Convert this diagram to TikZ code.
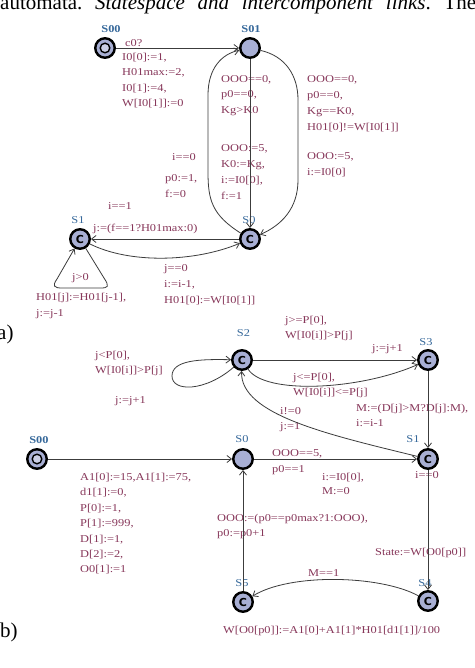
\documentclass[tikz,border=0pt]{standalone}
\usepackage{fontspec}
\setmainfont{Liberation Serif}
\newfontfamily\lblfont[FakeStretch=1.18]{Liberation Serif}
\newfontfamily\cfont{DejaVu Sans}
\usetikzlibrary{arrows.meta}
\definecolor{nodefill}{RGB}{168,175,212}
\definecolor{labcol}{RGB}{135,55,90}
\definecolor{namecol}{RGB}{55,105,155}
\definecolor{edgecol}{RGB}{60,60,60}
\pgfdeclarelayer{labels}
\pgfdeclarelayer{edges}
\pgfsetlayers{labels,edges,main}
\newcommand\tlines[5]{\foreach \lbltxt [count=\lk from 0] in {#5}{\node[lab] (#1-\lk) at (#2,#3+3.5+#4*\lk) {\lbltxt};}}
\begin{document}
\begin{tikzpicture}[x=1pt,y=-1pt,
  loc/.style={circle,draw=black,line width=2.4pt,fill=nodefill,minimum size=19.5pt,inner sep=0pt},
  comm/.style={loc,font=\cfont\bfseries\fontsize{11}{11}\selectfont},
  init/.style={loc,path picture={\draw[line width=1.4pt,fill=nodefill!60!white] (path picture bounding box.center) circle (4.8pt);}},
  lab/.style={anchor=base west,inner sep=0pt,text=labcol,font=\lblfont\fontsize{10.5}{12}\selectfont},
  nm/.style={anchor=base,inner sep=0pt,text=namecol,font=\lblfont\fontsize{10.5}{12}\selectfont},
  nmb/.style={nm,font=\lblfont\bfseries\fontsize{10.5}{12}\selectfont},
  edge/.style={draw=edgecol,line width=0.8pt,-{Straight Barb[length=4.5pt,width=7pt]}},
  capt/.style={inner sep=0pt,anchor=base west,font=\fontsize{21}{25}\selectfont}
]
\useasboundingbox (0,0) rectangle (474,668);

% ---------- (a) locations
\node[init] (S00a) at (105,48) {};
\node[loc]  (S01a) at (250,48) {};
\node[comm] (S0a)  at (250,239) {C};
\node[comm] (S1a)  at (80,239) {C};

% ---------- (b) locations
\node[init] (S00b) at (37,459) {};
\node[loc]  (S0b)  at (243,459) {};
\node[comm] (S1b)  at (428,459) {C};
\node[comm] (S2b)  at (242,360) {C};
\node[comm] (S3b)  at (428,360) {C};
\node[comm] (S4b)  at (428,601) {C};
\node[comm] (S5b)  at (243,602) {C};

\begin{pgfonlayer}{labels}
\fill[white] (0,0) rectangle (474,668);
% caption texts
\node[capt] (head) at (0,9.5) {\hbox to 476pt{automata.\hfill\textit{Statespace}\hfill\textit{and}\hfill\textit{intercomponent}\hfill\textit{links}.\hfill The}};
\node[capt] (capa) at (-3,339) {a)};
\node[capt] (capb) at (0,637) {b)};

% location names
\node[nmb] (nS00a) at (111,32.5) {S00};
\node[nmb] (nS01a) at (251,32.5) {S01};
\node[nm]  (nS0a)  at (249,223.5) {S0};
\node[nm]  (nS1a)  at (78,223.5) {S1};
\node[nm]  (nS2b)  at (243.5,336.5) {S2};
\node[nm]  (nS3b)  at (426,345.5) {S3};
\node[nm]  (nS1b)  at (413,442.5) {S1};
\node[nm]  (nS0b)  at (242,442.5) {S0};
\node[nmb] (nS00b) at (39,443.5) {S00};
\node[nm]  (nS5b)  at (242,586.5) {S5};
\node[nm]  (nS4b)  at (425,586.5) {S4};

% (a) edge labels
\node[lab] (lc0) at (125,46.5) {c0?};
\tlines{la1}{122}{57}{15.3}{{I0[0]:=1,},{H01max:=2,},{I0[1]:=4,},{W[I0[1]]:=0}}
\tlines{la2}{221}{79}{15.5}{{OOO==0,},{p0==0,},{Kg>K0}}
\tlines{la3}{221}{148}{16}{{OOO:=5,},{K0:=Kg,},{i:=I0[0],},{f:=1}}
\tlines{la4}{307}{79}{16}{{OOO==0,},{p0==0,},{Kg==K0,},{H01[0]!=W[I0[1]]}}
\tlines{la5}{307}{156}{16.5}{{OOO:=5,},{i:=I0[0]}}
\node[lab] (li0) at (172,160.5) {i==0};
\tlines{la6}{165}{178}{15.5}{{p0:=1,},{f:=0}}
\node[lab] (li1) at (108,209.5) {i==1};
\node[lab] (ljf) at (93,231.5) {j:=(f==1?H01max:0)};
\tlines{la7}{164}{268}{16}{{j==0},{i:=i-1,},{H01[0]:=W[I0[1]]}}
\node[lab] (ljg) at (72,280) {j>0};
\tlines{la8}{36}{297}{16}{{H01[j]:=H01[j-1],},{j:=j-1}}

% (b) edge labels
\tlines{lb1}{285}{320}{14.5}{{j>=P[0],},{W[I0[i]]>P[j]}}
\node[lab] (ljj1) at (372,351.5) {j:=j+1};
\tlines{lb2}{293}{377}{14.5}{{j<=P[0],},{W[I0[i]]<=P[j]}}
\tlines{lb3}{95}{355}{15}{{j<P[0],},{W[I0[i]]>P[j]}}
\node[lab] (ljj2) at (115,403.5) {j:=j+1};
\tlines{lb4}{280}{411}{14.5}{{i!=0},{j:=1}}
\tlines{lb5}{356}{408}{15}{{M:=(D[j]>M?D[j]:M),},{i:=i-1}}
\tlines{lb6}{80}{477}{15.4}{{A1[0]:=15,A1[1]:=75,},{d1[1]:=0,},{P[0]:=1,},{P[1]:=999,},{D[1]:=1,},{D[2]:=2,},{O0[1]:=1}}
\tlines{lb7}{272}{453}{16}{{OOO==5,},{p0==1}}
\tlines{lb8}{322}{477}{14}{{i:=I0[0],},{M:=0}}
\node[lab] (li00) at (415,478.5) {i==0};
\node[lab] (lst) at (375,555.5) {State:=W[O0[p0]]};
\node[lab] (lm1) at (308,576.5) {M==1};
\tlines{lb9}{217}{518}{15}{{OOO:=(p0==p0max?1:OOO),},{p0:=p0+1}}
\node[lab] (lw) at (223,633.5) {W[O0[p0]]:=A1[0]+A1[1]*H01[d1[1]]/100};
\end{pgfonlayer}

\begin{pgfonlayer}{edges}
% (a)
\draw[edge] (S00a) -- (S01a);
\draw[edge] (S01a) -- (S0a);
\draw[edge] (S0a) .. controls (212,215) and (208,200) .. (208,172) -- (208,95) .. controls (208,68) and (222,54) .. (S01a);
\draw[edge] (S01a) .. controls (285,56) and (298,75) .. (298,100) -- (298,180) .. controls (298,208) and (282,225) .. (S0a);
\draw[edge] (S0a) -- (S1a);
\draw[edge] (S1a) .. controls (130,264) and (195,262) .. (S0a);
\draw[edge] (S1a) -- (104,278) .. controls (110,287) and (108,288) .. (100,288) -- (62,288) .. controls (54,288) and (52,286) .. (57,279) -- (S1a);
% (b)
\draw[edge] (S00b) -- (S0b);
\draw[edge] (S0b) -- (S1b);
\draw[edge] (S2b) -- (S3b);
\draw[edge] (S2b) .. controls (265,395) and (360,390) .. (S3b);
\draw[edge] (S2b) .. controls (205,392) and (172,392) .. (172,376) .. controls (172,360) and (200,359) .. (S2b);
\draw[edge] (S1b) .. controls (330,435) and (240,415) .. (S2b);
\draw[edge] (S3b) -- (S1b);
\draw[edge] (S1b) -- (S4b);
\draw[edge] (S4b) .. controls (380,575) and (290,573) .. (S5b);
\draw[edge] (S5b) -- (S0b);
\end{pgfonlayer}
\end{tikzpicture}
\end{document}
